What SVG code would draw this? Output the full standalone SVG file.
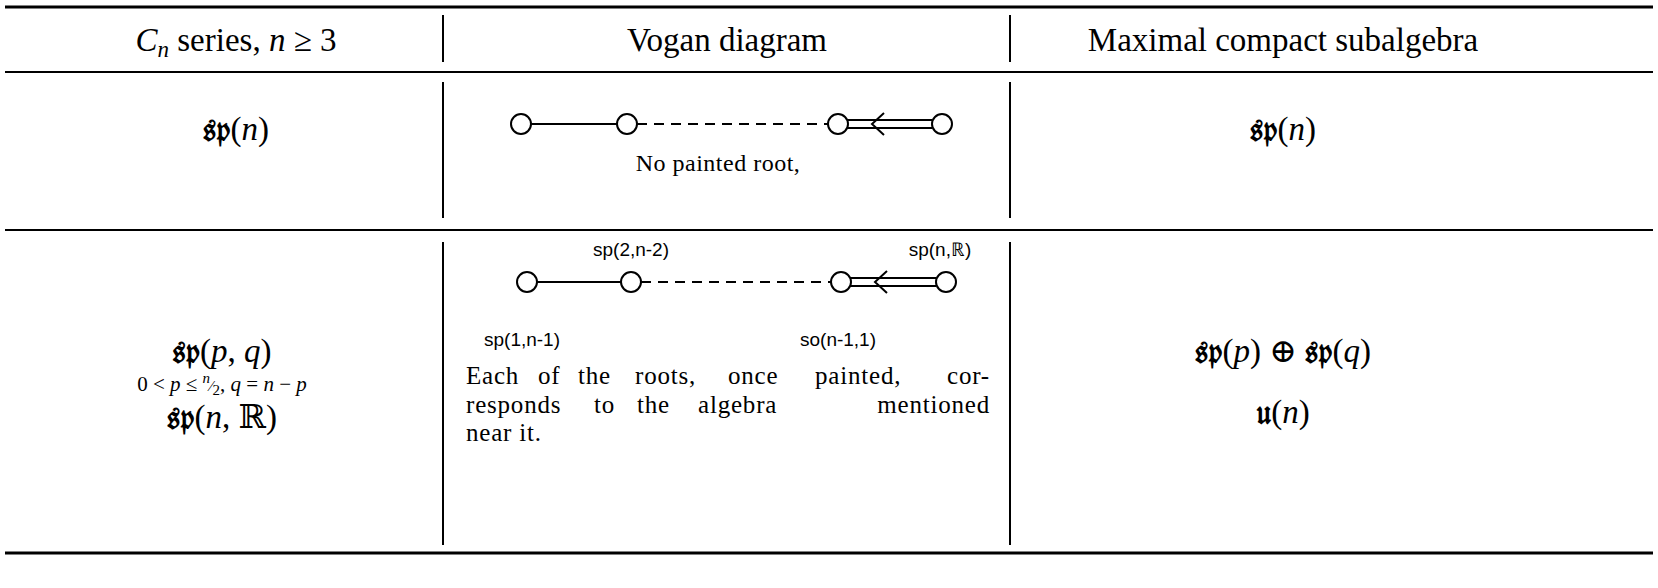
<svg xmlns="http://www.w3.org/2000/svg" width="1658" height="588" viewBox="0 0 1658 588">
<style>
.t{font-family:"Liberation Serif","DejaVu Serif",serif;fill:#000}
.f{font-family:"DejaVu Sans","Noto Sans Math",serif;font-weight:bold}
.i{font-style:italic}
.s{font-family:"Liberation Sans Narrow","Liberation Sans",sans-serif;font-size:19px;fill:#000}
.rule{stroke:#000;fill:none}
.node{fill:#fff;stroke:#000;stroke-width:2}
.e{stroke:#000;stroke-width:2;fill:none}
</style>
<rect width="1658" height="588" fill="#fff"/>
<g id="rules">
<line class="rule" x1="5" y1="7" x2="1653" y2="7" stroke-width="3"/>
<line class="rule" x1="5" y1="72" x2="1653" y2="72" stroke-width="2"/>
<line class="rule" x1="5" y1="230" x2="1653" y2="230" stroke-width="2"/>
<line class="rule" x1="5" y1="553" x2="1653" y2="553" stroke-width="3"/>
<line class="rule" x1="443" y1="15" x2="443" y2="62" stroke-width="2"/>
<line class="rule" x1="1010" y1="15" x2="1010" y2="62" stroke-width="2"/>
<line class="rule" x1="443" y1="82" x2="443" y2="218" stroke-width="2"/>
<line class="rule" x1="1010" y1="82" x2="1010" y2="218" stroke-width="2"/>
<line class="rule" x1="443" y1="242" x2="443" y2="545" stroke-width="2"/>
<line class="rule" x1="1010" y1="242" x2="1010" y2="545" stroke-width="2"/>
</g>
<g id="header" class="t" font-size="33" text-anchor="middle">
<text x="236" y="51"><tspan class="i">C</tspan><tspan class="i" font-size="23" dy="6">n</tspan><tspan dy="-6"> series, </tspan><tspan class="i">n</tspan> ≥ 3</text>
<text x="727" y="51">Vogan diagram</text>
<text x="1283" y="51">Maximal compact subalgebra</text>
</g>
<g id="row1" class="t" font-size="33" text-anchor="middle">
<text x="236" y="140"><tspan class="f">𝔰𝔭</tspan>(<tspan class="i">n</tspan>)</text>
<text x="1283" y="140"><tspan class="f">𝔰𝔭</tspan>(<tspan class="i">n</tspan>)</text>
<text x="718" y="171" font-size="24" letter-spacing="0.5">No painted root,</text>
</g>
<g id="connectors">
<line class="e" x1="531" y1="124" x2="617" y2="124"/>
<line class="e" x1="637" y1="124" x2="828" y2="124" stroke-dasharray="10,7"/>
<line class="e" x1="847" y1="120" x2="932" y2="120"/>
<line class="e" x1="847" y1="128" x2="932" y2="128"/>
<polyline class="e" points="884,113 872,124 884,135"/>
<line class="e" x1="537" y1="282" x2="621" y2="282"/>
<line class="e" x1="641" y1="282" x2="831" y2="282" stroke-dasharray="10,7"/>
<line class="e" x1="850" y1="278" x2="936" y2="278"/>
<line class="e" x1="850" y1="286" x2="936" y2="286"/>
<polyline class="e" points="887,271 875,282 887,293"/>
</g>
<g id="n1"><circle class="node" cx="521" cy="124" r="10"/></g>
<g id="n2"><circle class="node" cx="627" cy="124" r="10"/></g>
<g id="n3"><circle class="node" cx="838" cy="124" r="10"/></g>
<g id="n4"><circle class="node" cx="942" cy="124" r="10"/></g>
<g id="m1"><circle class="node" cx="527" cy="282" r="10"/><text class="s" x="522" y="346" text-anchor="middle">sp(1,n-1)</text></g>
<g id="m2"><circle class="node" cx="631" cy="282" r="10"/><text class="s" x="631" y="256" text-anchor="middle">sp(2,n-2)</text></g>
<g id="m3"><circle class="node" cx="841" cy="282" r="10"/><text class="s" x="838" y="346" text-anchor="middle">so(n-1,1)</text></g>
<g id="m4"><circle class="node" cx="946" cy="282" r="10"/><text class="s" x="940" y="256" text-anchor="middle">sp(n,ℝ)</text></g>
<g id="para" class="t" font-size="25" letter-spacing="0.8">
<text y="384"><tspan x="466">Each</tspan><tspan x="538">of</tspan><tspan x="578">the</tspan><tspan x="635">roots,</tspan><tspan x="728">once</tspan><tspan x="815">painted,</tspan><tspan x="990" text-anchor="end">cor-</tspan></text>
<text y="413"><tspan x="466">responds</tspan><tspan x="594">to</tspan><tspan x="637">the</tspan><tspan x="698">algebra</tspan><tspan x="990" text-anchor="end">mentioned</tspan></text>
<text x="466" y="441">near it.</text>
</g>
<g id="row2" class="t" font-size="33" text-anchor="middle">
<text x="222" y="362"><tspan class="f">𝔰𝔭</tspan>(<tspan class="i">p</tspan>, <tspan class="i">q</tspan>)</text>
<text x="222" y="428"><tspan class="f">𝔰𝔭</tspan>(<tspan class="i">n</tspan>, ℝ)</text>
<text x="1283" y="362"><tspan class="f">𝔰𝔭</tspan>(<tspan class="i">p</tspan>) ⊕ <tspan class="f">𝔰𝔭</tspan>(<tspan class="i">q</tspan>)</text>
<text x="1283" y="423"><tspan class="f">𝔲</tspan>(<tspan class="i">n</tspan>)</text>
<text x="222" y="391" font-size="21">0 &lt; <tspan class="i">p</tspan> ≤ <tspan class="i" font-size="15" dy="-8">n</tspan><tspan font-size="15" dy="8">⁄</tspan><tspan font-size="15" dy="4">2</tspan><tspan dy="-4">,  </tspan><tspan class="i">q</tspan> = <tspan class="i">n</tspan> − <tspan class="i">p</tspan></text>
</g>
</svg>
